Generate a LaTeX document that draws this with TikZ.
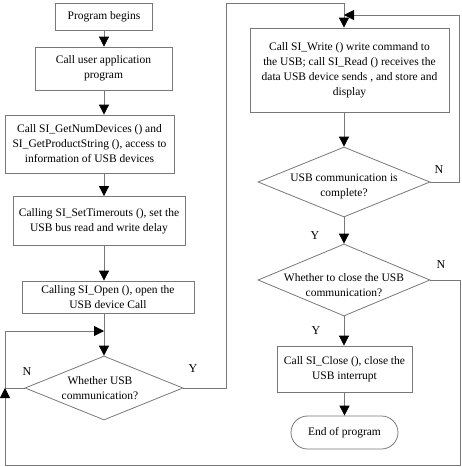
\documentclass[tikz,border=0pt]{standalone}
\usepackage{fontspec}
\setmainfont{Liberation Serif}
\usetikzlibrary{arrows.meta,shapes.geometric,shapes.misc}
\definecolor{linegray}{RGB}{120,120,120}
\begin{document}
\begin{tikzpicture}[x=1pt,y=-1pt,
  line/.style={draw=linegray,line width=0.8pt},
  box/.style={line,rectangle,inner sep=0pt,align=center,font=\fontsize{11.5}{15}\selectfont},
  dia/.style={line,diamond,inner sep=0pt},
  txt/.style={inner sep=0pt,align=center,font=\fontsize{11.5}{15}\selectfont},
  arr/.style={line,-{Triangle[length=10pt,width=10pt,color=black]}},
  lbl/.style={inner sep=0pt,font=\fontsize{12}{14}\selectfont}]
\useasboundingbox (0,0) rectangle (462,467);
% left column
\node[box,minimum width=97pt,minimum height=27pt] (b1) at (104,16.5) {Program begins};
\node[box,minimum width=137pt,minimum height=43pt] (b2) at (103.5,68.5) {Call user application\\program};
\node[box,minimum width=169pt,minimum height=58pt] (b3) at (89.5,144) {Call SI\_GetNumDevices () and\\SI\_GetProductString (), access to\\information of USB devices};
\node[box,minimum width=172pt,minimum height=49pt] (b4) at (99,221) {Calling SI\_SetTimerouts (), set the\\USB bus read and write delay};
\node[box,minimum width=172pt,minimum height=32pt] (b5) at (108,297) {Calling SI\_Open (), open the\\USB device Call};
\node[dia,minimum width=158pt,minimum height=64pt] (d1) at (104,388) {};
\node[txt] (t1) at (100,388) {Whether USB\\communication?};
% right column
\node[box,minimum width=199pt,minimum height=84pt] (r1) at (349.5,70) {Call SI\_Write () write command to\\the USB; call SI\_Read () receives the\\data USB device sends , and store and\\display};
\node[dia,minimum width=172pt,minimum height=70pt] (d2) at (344,182) {};
\node[txt] (t2) at (344,186) {USB communication is\\complete?};
\node[dia,minimum width=172pt,minimum height=72pt] (d3) at (344,280) {};
\node[txt] (t3) at (344,285) {Whether to close the USB\\communication?};
\node[box,minimum width=135pt,minimum height=46pt] (b6) at (344.5,369) {Call SI\_Close (), close the\\USB interrupt};
\node[box,rounded rectangle,minimum width=107pt,minimum height=33pt] (e1) at (344.5,432.5) {End of program};
% coordinates
\coordinate (rb) at (460,465);
\coordinate (lb) at (5,465);
\coordinate (lt) at (5,331);
\coordinate (jn) at (104,331);
\coordinate (ya) at (226,3);
\coordinate (nr) at (459,15);
% connectors
\draw[arr] (b1.south) -- (b2.north -| b1.south);
\draw[arr] (b2.south -| b1.south) -- (b3.north -| b1.south);
\draw[arr] (b3.south -| b1.south) -- (b4.north -| b1.south);
\draw[arr] (b4.south -| b1.south) -- (b5.north -| b1.south);
\draw[arr] (b5.south -| d1.north) -- (d1.north);
\draw[arr] (d1.west) -- (lb |- d1.west) -- (lt) -- (jn);
\draw[arr] (d3.east) -| (rb) -- (lb) -- (lb |- d1.west);
\draw[arr] (d1.east) -| (ya) -| (r1.north -| d2.north);
\draw[arr] (r1.south -| d2.north) -- (d2.north);
\draw[arr] (d2.east) -| (nr) -- (d2.north |- nr);
\draw[arr] (d2.south) -- (d3.north);
\draw[arr] (d3.south) -- (b6.north -| d3.south);
\draw[arr] (b6.south -| e1.north) -- (e1.north);
% labels
\node[lbl] (n1) at (27,372) {N};
\node[lbl] (y1) at (193,369) {Y};
\node[lbl] (n2) at (439,170) {N};
\node[lbl] (y2) at (315,236) {Y};
\node[lbl] (n3) at (441,265) {N};
\node[lbl] (y3) at (316,331) {Y};
\end{tikzpicture}
\end{document}
